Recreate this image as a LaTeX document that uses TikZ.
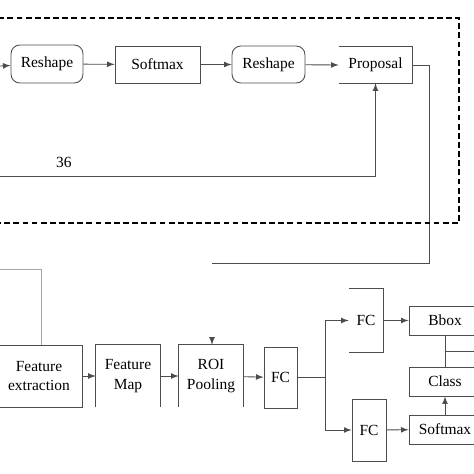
\documentclass[tikz,border=0pt]{standalone}
\usepackage{fontspec}
\setmainfont{Liberation Serif}
\usetikzlibrary{calc}
\tikzset{>=latex}

\begin{document}
\begin{tikzpicture}[x=0.02cm,y=-0.02cm,
    blk/.style 2 args={minimum width=#1*0.02cm,minimum height=#2*0.02cm,inner sep=0pt,
        align=center,font=\fontsize{8.8}{11}\selectfont},
    boxline/.style={draw=black!70,line width=0.5pt},
    wire/.style={draw=black!70,line width=0.5pt}]
\useasboundingbox (0,0) rectangle (474,474);
\clip (0,0) rectangle (474,474);

% closed boxes
\begin{scope}[every node/.style={boxline}]
\node[blk={72}{38},rounded corners=5pt] (resh1) at (47,64) {Reshape};
\node[blk={85}{37}] (soft1) at (157.5,64.5) {Softmax};
\node[blk={73}{37},rounded corners=5pt] (resh2) at (268.5,64.5) {Reshape};
\node[blk={86}{62}] (feat) at (39,376) {Feature\\extraction};
\node[blk={33}{61}] (fc1) at (280.5,377.5) {FC};
\node[blk={34}{62}] (fc3) at (369,430) {FC};
\node[blk={72}{29}] (bbox) at (445,320.5) {Bbox};
\node[blk={72}{29}] (cls) at (445,381.5) {Class};
\node[blk={72}{29}] (soft2) at (445,429.5) {Softmax};
\end{scope}

% open boxes
\node[blk={73}{36}] (prop) at (375.5,65) {Proposal};
\node[blk={64}{62}] (fmap) at (128,376) {Feature\\Map};
\node[blk={64}{62}] (roi) at (211,376) {ROI\\Pooling};
\node[blk={34}{63}] (fc2) at (366,320.5) {FC};
\draw[boxline] (prop.north west) -- (prop.north east) -- (prop.south east) -- (prop.south west);
\draw[boxline] (fmap.south west) -- (fmap.north west) -- (fmap.north east) -- (fmap.south east);
\draw[boxline] (roi.south west) -- (roi.north west) -- (roi.north east) -- (roi.south east);
\draw[boxline] (fc2.north west) -- (fc2.north east) -- (fc2.south east) -- (fc2.south west);

\coordinate (inl) at (0,66);
\coordinate (c36) at (0,176);
\coordinate (pturn) at (429,263);
\coordinate (pend) at (212,263);
\coordinate (roiin) at (212,337);
\coordinate (fin) at (0,269);
\coordinate (fturn) at (41,269);
\coordinate (split) at (325,377.5);
\coordinate (bc) at ($(bbox.south)!0.5!(cls.north)$);

\begin{scope}[every edge/.style={wire}]
    \path [->] (inl) edge (resh1);
    \path [->] (resh1) edge (soft1);
    \path [->] (soft1) edge (resh2);
    \path [->] (resh2) edge (prop.west);
    \draw [wire,->] (c36) -| node[pos=0.085,above=1pt,font=\fontsize{8.8}{11}\selectfont] {36} (prop.south);
    \draw [wire] (prop.east) -| (pturn) -- (pend);
    \path [->] (roiin) edge (roiin |- roi.north);

    \draw [wire,draw=black!35] (fin) -- (fturn) -- (fturn |- feat.north);
    \path [->] (feat) edge (fmap);
    \path [->] (fmap) edge (roi);
    \path [->] (roi) edge (fc1);
    \draw [wire] (fc1.east) -- (split);
    \draw [wire,->] (split) |- (fc2.west);
    \draw [wire,->] (split) |- (fc3.west);
    \path [->] (fc2) edge (bbox);
    \path [->] (fc3) edge (soft2);
    \path [->] (soft2) edge (cls);
    \path (bbox) edge (cls);
    \path (bc) edge ++(40,0);
\end{scope}

% RPN region
\draw[line width=0.8pt,dash pattern=on 3.3pt off 1.9pt] (-10,18) rectangle (459,223);
\end{tikzpicture}
\end{document}
